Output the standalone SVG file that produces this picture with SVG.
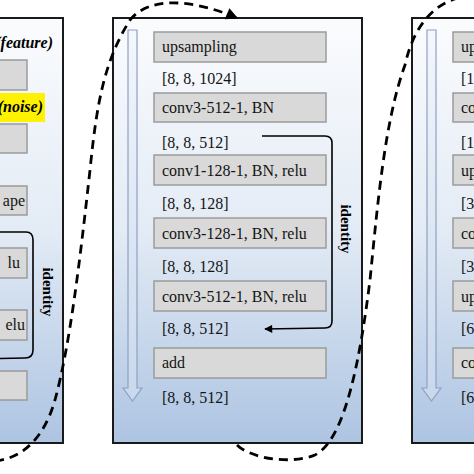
<svg xmlns="http://www.w3.org/2000/svg" width="474" height="474" viewBox="0 0 474 474">
<defs>
<linearGradient id="panelGrad" x1="0" y1="0" x2="0" y2="1">
<stop offset="0" stop-color="#fbfcfe"/>
<stop offset="0.5" stop-color="#e3ebf5"/>
<stop offset="1" stop-color="#adc4e2"/>
</linearGradient>
<linearGradient id="arrowGrad" x1="0" y1="0" x2="0" y2="1">
<stop offset="0" stop-color="#f4f7fb"/>
<stop offset="1" stop-color="#cad8ec"/>
</linearGradient>
<marker id="dashHead" viewBox="0 0 10 10" refX="9" refY="5" markerWidth="13" markerHeight="12" markerUnits="userSpaceOnUse" orient="auto">
<path d="M0 0 L10 5 L0 10 Z" fill="#000"/>
</marker>
<marker id="idHead" viewBox="0 0 10 10" refX="9" refY="5" markerWidth="10" markerHeight="8" markerUnits="userSpaceOnUse" orient="auto">
<path d="M0 0 L10 5 L0 10 Z" fill="#000"/>
</marker>
</defs>
<style>
.panel{fill:url(#panelGrad);stroke:#1a1a1a;stroke-width:2}
.flow{fill:url(#arrowGrad);stroke:#8ba2c4;stroke-width:1.2}
.box{fill:#d9d9d9;stroke:#9b9b9b;stroke-width:1.5}
.t{font-family:"Liberation Serif","Times New Roman",serif;font-size:16px;fill:#141414}
.bi{font-family:"Liberation Serif","Times New Roman",serif;font-size:16px;font-weight:bold;font-style:italic;fill:#000}
.id{font-family:"Liberation Serif","Times New Roman",serif;font-size:15px;font-weight:bold;fill:#000}
.dash{fill:none;stroke:#000;stroke-width:2.8;stroke-dasharray:9 6}
.idline{fill:none;stroke:#000;stroke-width:1.6}
</style>

<!-- Left panel (mostly off-canvas) -->
<g id="panel-left">
<rect class="panel" x="-186" y="18" width="249" height="425"/>
<text class="bi" x="53" y="48" text-anchor="end">(feature)</text>
<g id="left-box1"><rect class="box" x="-144" y="60" width="171" height="30"/></g>
<g id="left-noise"><rect x="-10" y="93" width="55" height="29" fill="#fff200"/>
<text class="bi" x="43" y="112" text-anchor="end">(noise)</text></g>
<g id="left-box2"><rect class="box" x="-144" y="124" width="171" height="29"/></g>
<g id="left-box3"><rect class="box" x="-144" y="186" width="171" height="29"/>
<text class="t" x="25" y="206" text-anchor="end">ape</text></g>
<g id="left-box4"><rect class="box" x="-144" y="248" width="171" height="30"/>
<text class="t" x="20" y="268" text-anchor="end">lu</text></g>
<g id="left-box5"><rect class="box" x="-144" y="310" width="171" height="30"/>
<text class="t" x="25" y="330" text-anchor="end">elu</text></g>
<g id="left-box6"><rect class="box" x="-144" y="371" width="171" height="29"/></g>
<text class="id" transform="translate(43,292) rotate(90)" text-anchor="middle">identity</text>
</g>

<!-- Middle panel -->
<g id="panel-middle">
<rect class="panel" x="113" y="18" width="249" height="425"/>
<path class="flow" d="M128 30 L137 30 L137 388 L142 388 L132.5 401 L123 388 L128 388 Z"/>
<g id="m-up"><rect class="box" x="154" y="32" width="172" height="30"/><text class="t" x="162" y="52">upsampling</text></g>
<text class="t" x="162" y="83.5">[8, 8, 1024]</text>
<g id="m-conv1"><rect class="box" x="154" y="93" width="172" height="29"/><text class="t" x="162" y="113">conv3-512-1, BN</text></g>
<text class="t" x="162" y="147.5">[8, 8, 512]</text>
<g id="m-conv2"><rect class="box" x="154" y="155" width="172" height="30"/><text class="t" x="162" y="175.5">conv1-128-1, BN, relu</text></g>
<text class="t" x="162" y="208.5">[8, 8, 128]</text>
<g id="m-conv3"><rect class="box" x="154" y="218" width="172" height="30"/><text class="t" x="162" y="238.5">conv3-128-1, BN, relu</text></g>
<text class="t" x="162" y="271.5">[8, 8, 128]</text>
<g id="m-conv4"><rect class="box" x="154" y="281" width="172" height="30"/><text class="t" x="162" y="301.5">conv3-512-1, BN, relu</text></g>
<text class="t" x="162" y="333.5">[8, 8, 512]</text>
<g id="m-add"><rect class="box" x="154" y="348" width="172" height="30"/><text class="t" x="162" y="368">add</text></g>
<text class="t" x="162" y="402.5">[8, 8, 512]</text>
<text class="id" transform="translate(341,229) rotate(90)" text-anchor="middle">identity</text>
</g>

<!-- Right panel (partly off-canvas) -->
<g id="panel-right">
<rect class="panel" x="412" y="18" width="249" height="425"/>
<path class="flow" d="M427 30 L436 30 L436 388 L441 388 L431.5 401 L422 388 L427 388 Z"/>
<g id="r-up1"><rect class="box" x="453" y="32" width="172" height="30"/><text class="t" x="461" y="52">up</text></g>
<text class="t" x="461" y="83.5">[1</text>
<g id="r-conv1"><rect class="box" x="453" y="93" width="172" height="29"/><text class="t" x="461" y="113">co</text></g>
<text class="t" x="461" y="147.5">[1</text>
<g id="r-up2"><rect class="box" x="453" y="155" width="172" height="30"/><text class="t" x="461" y="175.5">up</text></g>
<text class="t" x="461" y="208.5">[3</text>
<g id="r-conv2"><rect class="box" x="453" y="218" width="172" height="30"/><text class="t" x="461" y="238.5">co</text></g>
<text class="t" x="461" y="271.5">[3</text>
<g id="r-up3"><rect class="box" x="453" y="281" width="172" height="30"/><text class="t" x="461" y="301.5">up</text></g>
<text class="t" x="461" y="333.5">[6</text>
<g id="r-conv3"><rect class="box" x="453" y="348" width="172" height="30"/><text class="t" x="461" y="368">co</text></g>
<text class="t" x="461" y="402.5">[6</text>
</g>

<!-- Connectors -->
<g id="connectors">
<path class="idline" d="M-20 232 L26 232 Q33 232 33 240 L33 350 Q33 358 25 358 L-20 359"/>
<path class="idline" d="M262 136 L325 136 Q332 136 332 143 L332 321 Q332 328 325 328 L265 329" marker-end="url(#idHead)"/>
<path class="dash" d="M-5 461 C25 458 45 435 55 400 C70 345 80 260 90 170 C97 100 105 60 130 20 C150 -5 195 0 237 18" marker-end="url(#dashHead)"/>
<path class="dash" d="M237 445 C250 458 290 465 315 455 C345 440 360 360 370 280 C378 200 385 120 405 65 C415 20 440 -5 480 -5"/>
</g>
</svg>
